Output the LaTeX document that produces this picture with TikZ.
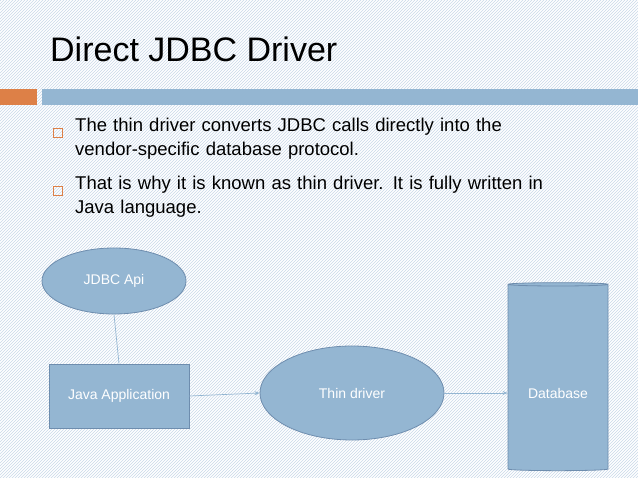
\documentclass[tikz,border=0pt]{standalone}
\usepackage{fontspec}
\setmainfont{Liberation Sans}
\usetikzlibrary{shapes.geometric,patterns,arrows.meta}
\definecolor{shp}{HTML}{94B6D2}
\definecolor{shpd}{HTML}{6E8DAE}
\definecolor{org}{HTML}{DD8047}
\definecolor{hatch}{HTML}{C9D9E8}
\begin{document}
\begin{tikzpicture}[x=1pt,y=-1pt,
  blob/.style={fill=shp,draw=shpd,line width=0.8pt,text=white,font=\fontsize{14}{16}\selectfont},
  conn/.style={draw=shp,line width=0.7pt},
  bul/.style={font=\fontsize{18.5}{24}\selectfont,align=left,text width=520pt},
  box/.style={draw=org,line width=0.6pt,minimum size=9pt,inner sep=0pt}]
\useasboundingbox (0,0) rectangle (638,478);
\fill[white] (0,0) rectangle (638,478);
\fill[pattern=north east lines,pattern color=hatch] (0,0) rectangle (638,478);
\node[anchor=base west,font=\fontsize{34}{40}\selectfont,inner sep=0pt] (title) at (50,62) {Direct JDBC Driver};
\fill[org] (0,89) rectangle (37,105);
\fill[shp] (42,89) rectangle (638,105);
\node[box] (b1) at (58,133) {};
\node[bul,anchor=north west,inner sep=0pt] (t1) at (75,118) {The thin driver converts JDBC calls directly into the\\ vendor-specific database protocol.};
\node[box] (b2) at (58,191) {};
\node[bul,anchor=north west,inner sep=0pt] (t2) at (75,176) {That is why it is known as thin driver. It is fully written in\\ Java language.};
\node[blob,ellipse,minimum width=144pt,minimum height=66pt] (api) at (114,281) {JDBC Api};
\node[blob,rectangle,minimum width=140pt,minimum height=64pt] (java) at (119,396) {Java Application};
\node[blob,ellipse,minimum width=184pt,minimum height=94pt] (thin) at (352,393) {Thin driver};
\node[blob,cylinder,shape border rotate=90,aspect=0.5,minimum width=100pt,minimum height=188pt,anchor=center] (db) at (558,378) {};
\node[text=white,font=\fontsize{14}{16}\selectfont] (dbl) at (558,393) {Database};
\draw[conn] (java.north) -- (api.south);
\draw[conn,-{Stealth[length=5pt,width=4pt]}] (java.east) -- (thin.west);
\draw[conn,-{Stealth[length=5pt,width=4pt]}] (thin.east) -- (thin.east -| db.west);
\end{tikzpicture}
\end{document}
